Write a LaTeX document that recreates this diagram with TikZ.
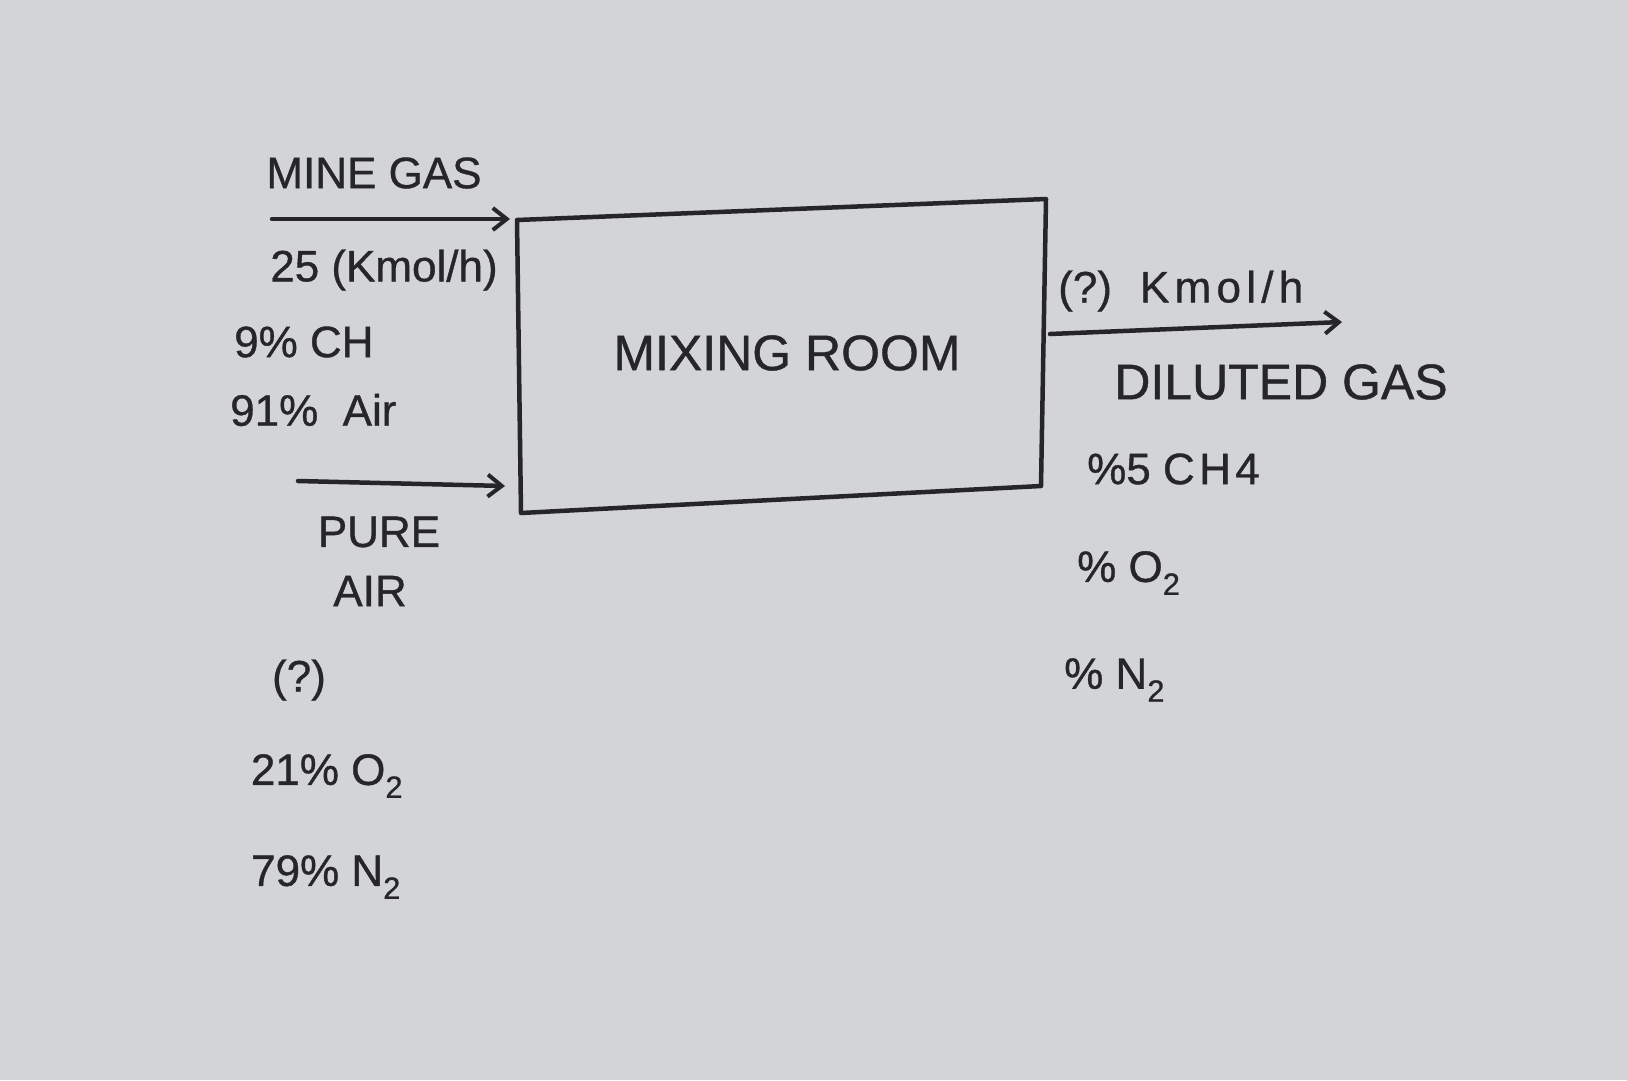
\documentclass[tikz,border=0pt]{standalone}
\usepackage{fontspec}
\setmainfont{Liberation Sans}[FakeBold=0.8]
\usetikzlibrary{arrows.meta}
\definecolor{paper}{HTML}{D2D4D6}
\definecolor{ink}{HTML}{262628}
\tikzset{
  pen/.style={draw=ink, line width=4.5pt, line cap=round, line join=round},
  flow/.style={pen, -{Straight Barb[length=14pt,width=22pt,line width=4pt]}},
  lbl/.style={text=ink, inner sep=0pt, font=\fontsize{44}{50}\selectfont},
  big/.style={text=ink, inner sep=0pt, font=\fontsize{50}{58}\selectfont}
}
\begin{document}
\begin{tikzpicture}[x=1pt,y=-1pt]
\fill[paper] (0,0) rectangle (1627,1080);
\useasboundingbox (0,0) rectangle (1627,1080);
% mixing room box
\coordinate (tl) at (517,220);
\coordinate (tr) at (1046,199);
\coordinate (br) at (1041,486);
\coordinate (bl) at (521,513);
\draw[pen] (tl) -- (tr) -- (br) -- (bl) -- cycle;
\node[big] (room) at (787,353) {MIXING ROOM};
% inlet mine gas
\coordinate (mgs) at (272,219);
\coordinate (mge) at (510,219);
\draw[flow] (mgs) -- (mge);
\node[lbl] (mine) at (374,173) {MINE GAS};
\node[lbl] (rate1) at (384,270) {25 (Kmol/h)};
\node[lbl, anchor=west] (ch) at (234,342) {9\% CH};
\node[lbl, anchor=west] (air) at (230,410) {91\%\ \ Air};
% inlet pure air
\coordinate (pas) at (298,481);
\coordinate (pae) at (505,486);
\draw[flow] (pas) -- (pae);
\node[lbl] (pure) at (379,532) {PURE};
\node[lbl] (air2) at (370,591) {AIR};
\node[lbl] (q1) at (299,680) {(?)};
\node[lbl] (o2) at (327,776) {21\% O\textsubscript{2}};
\node[lbl] (n2) at (326,877) {79\% N\textsubscript{2}};
% outlet
\coordinate (outs) at (1050,334);
\coordinate (oute) at (1342,322);
\draw[flow] (outs) -- (oute);
\node[lbl, anchor=west] (rate2) at (1058,291) {(?)\hspace{28pt}{\addfontfeature{LetterSpace=12}Kmol/h}};
\node[big] (dil) at (1281,382) {DILUTED GAS};
\node[lbl, anchor=west] (och) at (1087,469) {\%5 {\addfontfeature{LetterSpace=10}CH4}};
\node[lbl, anchor=west] (oo2) at (1077,573) {\% O\textsubscript{2}};
\node[lbl, anchor=west] (on2) at (1064,680) {\% N\textsubscript{2}};
\end{tikzpicture}
\end{document}
